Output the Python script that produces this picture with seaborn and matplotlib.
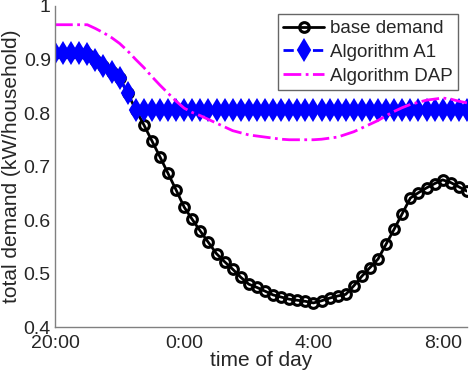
import numpy as np
import pandas as pd
import seaborn as sns
import matplotlib.pyplot as plt

# 15-minute samples, hours after 20:00
hours = np.arange(52) * 0.25

base_demand = [0.912, 0.912, 0.912, 0.912, 0.910, 0.900, 0.888, 0.877, 0.865, 0.837,
               0.806, 0.778, 0.748, 0.718, 0.687, 0.656, 0.624, 0.601, 0.579, 0.558,
               0.537, 0.522, 0.508, 0.493, 0.480, 0.474, 0.467, 0.460, 0.456, 0.452,
               0.450, 0.448, 0.445, 0.449, 0.454, 0.458, 0.461, 0.477, 0.495, 0.511,
               0.527, 0.555, 0.583, 0.612, 0.641, 0.651, 0.660, 0.668, 0.675, 0.670,
               0.662, 0.654]

algo_a1 = [0.912, 0.912, 0.912, 0.912, 0.910, 0.900, 0.888, 0.877, 0.865, 0.837,
           0.806] + [0.805] * 41

algo_dap = [0.965, 0.965, 0.965, 0.965, 0.965, 0.958, 0.950, 0.941, 0.930, 0.916,
            0.900, 0.885, 0.868, 0.852, 0.837, 0.822, 0.809, 0.801, 0.795, 0.788,
            0.781, 0.774, 0.767, 0.763, 0.759, 0.757, 0.755, 0.753, 0.751, 0.750,
            0.750, 0.750, 0.750, 0.751, 0.753, 0.755, 0.760, 0.765, 0.772, 0.779,
            0.786, 0.795, 0.803, 0.810, 0.816, 0.820, 0.824, 0.826, 0.828, 0.826,
            0.822, 0.819]

tick_pos = [0, 4, 8, 12]
tick_labels = ['20:00', '0:00', '4:00', '8:00']

sns.set_style('white')
plt.rcParams['font.family'] = ['Liberation Sans', 'DejaVu Sans']

fig = plt.figure(figsize=(4.74, 3.75), dpi=100)
ax = fig.add_axes([0.116, 0.128, 0.869, 0.856])

sns.lineplot(x=hours, y=base_demand, ax=ax, color='black', lw=2, marker='o',
             markersize=7, markerfacecolor='none', markeredgecolor='black',
             markeredgewidth=2.2, label='base demand')
sns.lineplot(x=hours, y=algo_a1, ax=ax, color='blue', lw=2, linestyle='--',
             marker='d', markersize=10, markeredgecolor='blue', markerfacecolor='blue',
             markeredgewidth=1.5, label='Algorithm A1')
sns.lineplot(x=hours, y=algo_dap, ax=ax, color='magenta', lw=2, linestyle='-.',
             label='Algorithm DAP')

ax.set_xlim(0, 12.75)
ax.set_ylim(0.4, 1.0)
ax.set_xticks(tick_pos)
ax.set_xticklabels(tick_labels)
ax.set_yticks([0.4, 0.5, 0.6, 0.7, 0.8, 0.9, 1.0])
ax.set_yticklabels(['0.4', '0.5', '0.6', '0.7', '0.8', '0.9', '1'])
ax.tick_params(direction='in', length=4, color='#808080', labelsize=14, pad=3)
ax.tick_params(axis='x', pad=6)
for s in ['top', 'right']:
    ax.spines[s].set_visible(False)
for s in ['left', 'bottom']:
    ax.spines[s].set_color('#808080')
    ax.spines[s].set_linewidth(1)

ax.set_xlabel('time of day', fontsize=15, labelpad=-1)
ax.set_ylabel('total demand (kW/household)', fontsize=15, labelpad=2)

leg = ax.legend(loc='upper right', fontsize=13.5, frameon=True, fancybox=False,
                borderaxespad=0.45, handlelength=2.2, borderpad=0.3, labelspacing=0.35,
                handletextpad=0.3)
leg.get_frame().set_edgecolor('#404040')
leg.get_frame().set_linewidth(1)

fig.savefig('out.png', dpi=100)
